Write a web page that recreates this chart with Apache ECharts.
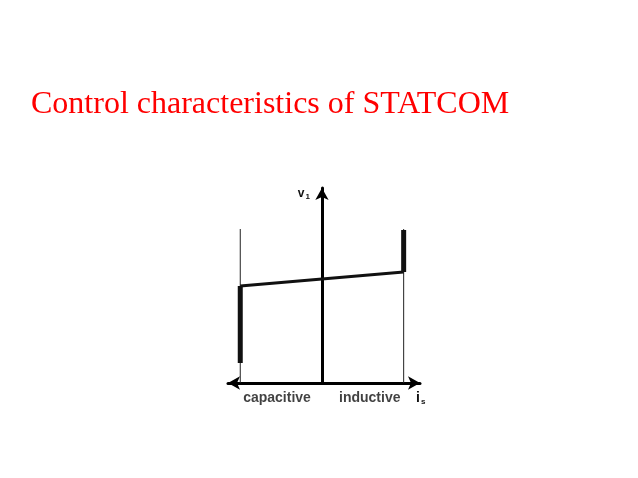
<!DOCTYPE html>
<html><head><meta charset="utf-8">
<script src="https://cdn.jsdelivr.net/npm/echarts@6/dist/echarts.min.js"></script>
<style>html,body{margin:0;padding:0;background:#fff}#c{width:638px;height:478px}</style>
</head><body><div id="c"></div>
<script>
const titleText = 'Control characteristics of STATCOM';
const xRange = [-1.15, 1.2];
const yRange = [0, 1.95];
const limitX = [-1, 1];                 // capacitive / inductive current limits
const limitLineTop = 1.54;
const capacitiveLimitV = [0.2, 0.97];   // vertical thick segment at capacitive limit
const controlLineX = [-1, 1];
const controlLineV = [0.97, 1.11];      // sloped control characteristic
const inductiveLimitV = [1.11, 1.53];   // vertical thick segment at inductive limit
const regionLabels = ['capacitive', 'inductive'];
const regionLabelX = [-0.55, 0.585];

const chart = echarts.init(document.getElementById('c'), null, {renderer: 'canvas'});
const base = {type: 'line', symbol: 'none', silent: true, animation: false};
const lblFont = {fontFamily: 'Liberation Sans', fontWeight: 'bold', fontSize: 14, color: '#111'};

chart.setOption({
  backgroundColor: '#fff',
  animation: false,
  title: {
    text: titleText, left: 31, top: 89, padding: 0,
    textStyle: {fontFamily: 'Liberation Serif', fontWeight: 'normal', fontSize: 32, color: '#f00'}
  },
  grid: {left: 228, right: 218, top: 188, bottom: 95, containLabel: false},
  xAxis: {
    type: 'value', min: xRange[0], max: xRange[1],
    axisLine: {onZero: false, symbol: ['arrow', 'arrow'], symbolSize: [10, 12], lineStyle: {color: '#000', width: 3}},
    axisTick: {show: false}, axisLabel: {show: false}, splitLine: {show: false},
    name: '{a|i}{b|s}', nameLocation: 'end', nameGap: -4,
    nameTextStyle: {
      verticalAlign: 'top', padding: [8, 0, 0, 0],
      rich: {a: Object.assign({}, lblFont, {fontSize: 14}), b: Object.assign({}, lblFont, {fontSize: 8, padding: [7, 0, 0, 1]})}
    }
  },
  yAxis: {
    type: 'value', min: yRange[0], max: yRange[1],
    axisLine: {onZero: true, symbol: ['none', 'arrow'], symbolSize: [10, 12], lineStyle: {color: '#000', width: 3}},
    axisTick: {show: false}, axisLabel: {show: false}, splitLine: {show: false},
    name: '{a|v}{b|1}', nameLocation: 'end', nameGap: 0,
    nameTextStyle: {
      align: 'right', verticalAlign: 'middle', padding: [12, 12, 0, 0],
      rich: {a: Object.assign({}, lblFont, {fontSize: 12}), b: Object.assign({}, lblFont, {fontSize: 8, padding: [5, 0, 0, 1]})}
    }
  },
  series: [
    Object.assign({}, base, {data: [[limitX[0], 0], [limitX[0], limitLineTop]], lineStyle: {color: '#222', width: 1}}),
    Object.assign({}, base, {data: [[limitX[1], 0], [limitX[1], limitLineTop]], lineStyle: {color: '#222', width: 1}}),
    Object.assign({}, base, {data: [[limitX[0], capacitiveLimitV[0]], [limitX[0], capacitiveLimitV[1]]], lineStyle: {color: '#111', width: 5, cap: 'butt'}}),
    Object.assign({}, base, {data: [[controlLineX[0], controlLineV[0]], [controlLineX[1], controlLineV[1]]], lineStyle: {color: '#111', width: 3}}),
    Object.assign({}, base, {data: [[limitX[1], inductiveLimitV[0]], [limitX[1], inductiveLimitV[1]]], lineStyle: {color: '#111', width: 5, cap: 'butt'}}),
    {
      type: 'scatter', silent: true, animation: false, symbolSize: 0,
      data: regionLabels.map((t, i) => ({value: [regionLabelX[i], 0], name: t})),
      label: Object.assign({show: true, position: 'bottom', distance: 8, formatter: p => p.name}, lblFont)
    }
  ]
});
</script></body></html>
